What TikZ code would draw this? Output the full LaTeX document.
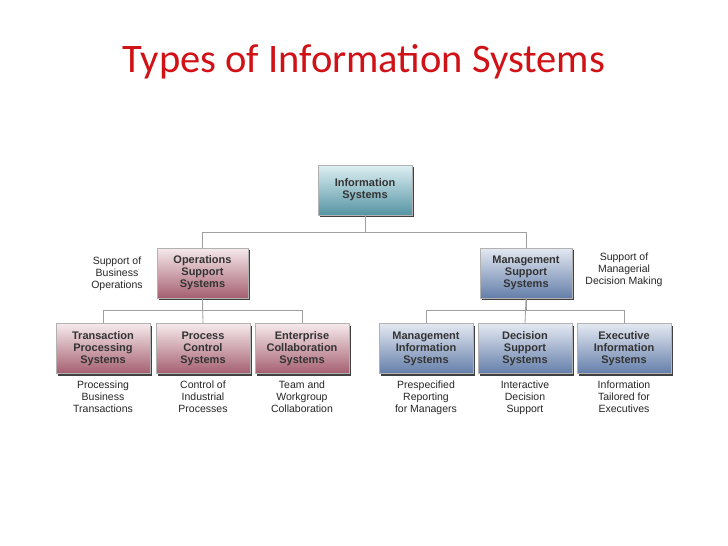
\documentclass[tikz,border=0pt]{standalone}
\usepackage{fontspec}
\setmainfont{Liberation Sans}
\newfontfamily\titlefont{Carlito}
\usetikzlibrary{positioning,shadows}
\definecolor{titlered}{RGB}{208,18,22}
\definecolor{tealtop}{RGB}{222,240,243}
\definecolor{tealbot}{RGB}{85,148,164}
\definecolor{pinktop}{RGB}{246,234,236}
\definecolor{pinkbot}{RGB}{165,95,112}
\definecolor{bluetop}{RGB}{228,233,242}
\definecolor{bluebot}{RGB}{100,126,170}
\tikzset{
  isbox/.style = {rectangle, draw=gray!60, line width=0.5pt, minimum width=94pt, minimum height=50pt, align=center,
    font=\fontsize{11}{12}\selectfont\bfseries, text=black!80,
    drop shadow={shadow xshift=2.2pt, shadow yshift=-2.2pt, fill=black!75, opacity=1}},
  tealbox/.style = {isbox, top color=tealtop, bottom color=tealbot},
  pinkbox/.style = {isbox, top color=pinktop, bottom color=pinkbot},
  bluebox/.style = {isbox, top color=bluetop, bottom color=bluebot},
  isnote/.style = {align=center, font=\fontsize{10.5}{12}\selectfont, text=black!85, inner sep=0pt},
  isline/.style = {draw=gray!75, line width=0.8pt},
}
\begin{document}
\begin{tikzpicture}[x=1pt,y=-1pt]
\useasboundingbox[fill=white] (0,0) rectangle (728,546);
\node[text=titlered, font=\titlefont\fontsize{40.5}{42}\selectfont] (title) at (364,62) {Types of Information Systems};

% top level
\node[tealbox] (is) at (365,190) {Information\\Systems};
\node[pinkbox, minimum width=91pt] (oss) at (202.5,273) {Operations\\Support\\Systems};
\node[bluebox, minimum width=92pt] (mss) at (526,273) {Management\\Support\\Systems};
\node[isnote] (ossnote) at (117,274) {Support of\\Business\\Operations};
\node[isnote] (mssnote) at (624,270) {Support of\\Managerial\\Decision Making};

% operations branch
\node[pinkbox] (tps) at (103,348.5) {Transaction\\Processing\\Systems};
\node[pinkbox] (pcs) at (203,348.5) {Process\\Control\\Systems};
\node[pinkbox] (ecs) at (302,348.5) {Enterprise\\Collaboration\\Systems};
% management branch
\node[bluebox] (mis) at (426,348.5) {Management\\Information\\Systems};
\node[bluebox] (dss) at (525,348.5) {Decision\\Support\\Systems};
\node[bluebox] (eis) at (624,348.5) {Executive\\Information\\Systems};

\node[isnote, below=7pt of tps] (tpsnote) {Processing\\Business\\Transactions};
\node[isnote, below=7pt of pcs] (pcsnote) {Control of\\Industrial\\Processes};
\node[isnote, below=7pt of ecs] (ecsnote) {Team and\\Workgroup\\Collaboration};
\node[isnote, below=7pt of mis] (misnote) {Prespecified\\Reporting\\for Managers};
\node[isnote, below=7pt of dss] (dssnote) {Interactive\\Decision\\Support};
\node[isnote, below=7pt of eis] (eisnote) {Information\\Tailored for\\Executives};

% connectors
\draw[isline] (is.south) -- ++(0,17) -| (oss.north);
\draw[isline] (is.south) -- ++(0,17) -| (mss.north);
\draw[isline] (oss.south) -- ++(0,12) -| (tps.north);
\draw[isline] (oss.south) -- (pcs.north);
\draw[isline] (oss.south) -- ++(0,12) -| (ecs.north);
\draw[isline] (mss.south) -- ++(0,12) -| (mis.north);
\draw[isline] (mss.south) -- (dss.north);
\draw[isline] (mss.south) -- ++(0,12) -| (eis.north);
\end{tikzpicture}
\end{document}
